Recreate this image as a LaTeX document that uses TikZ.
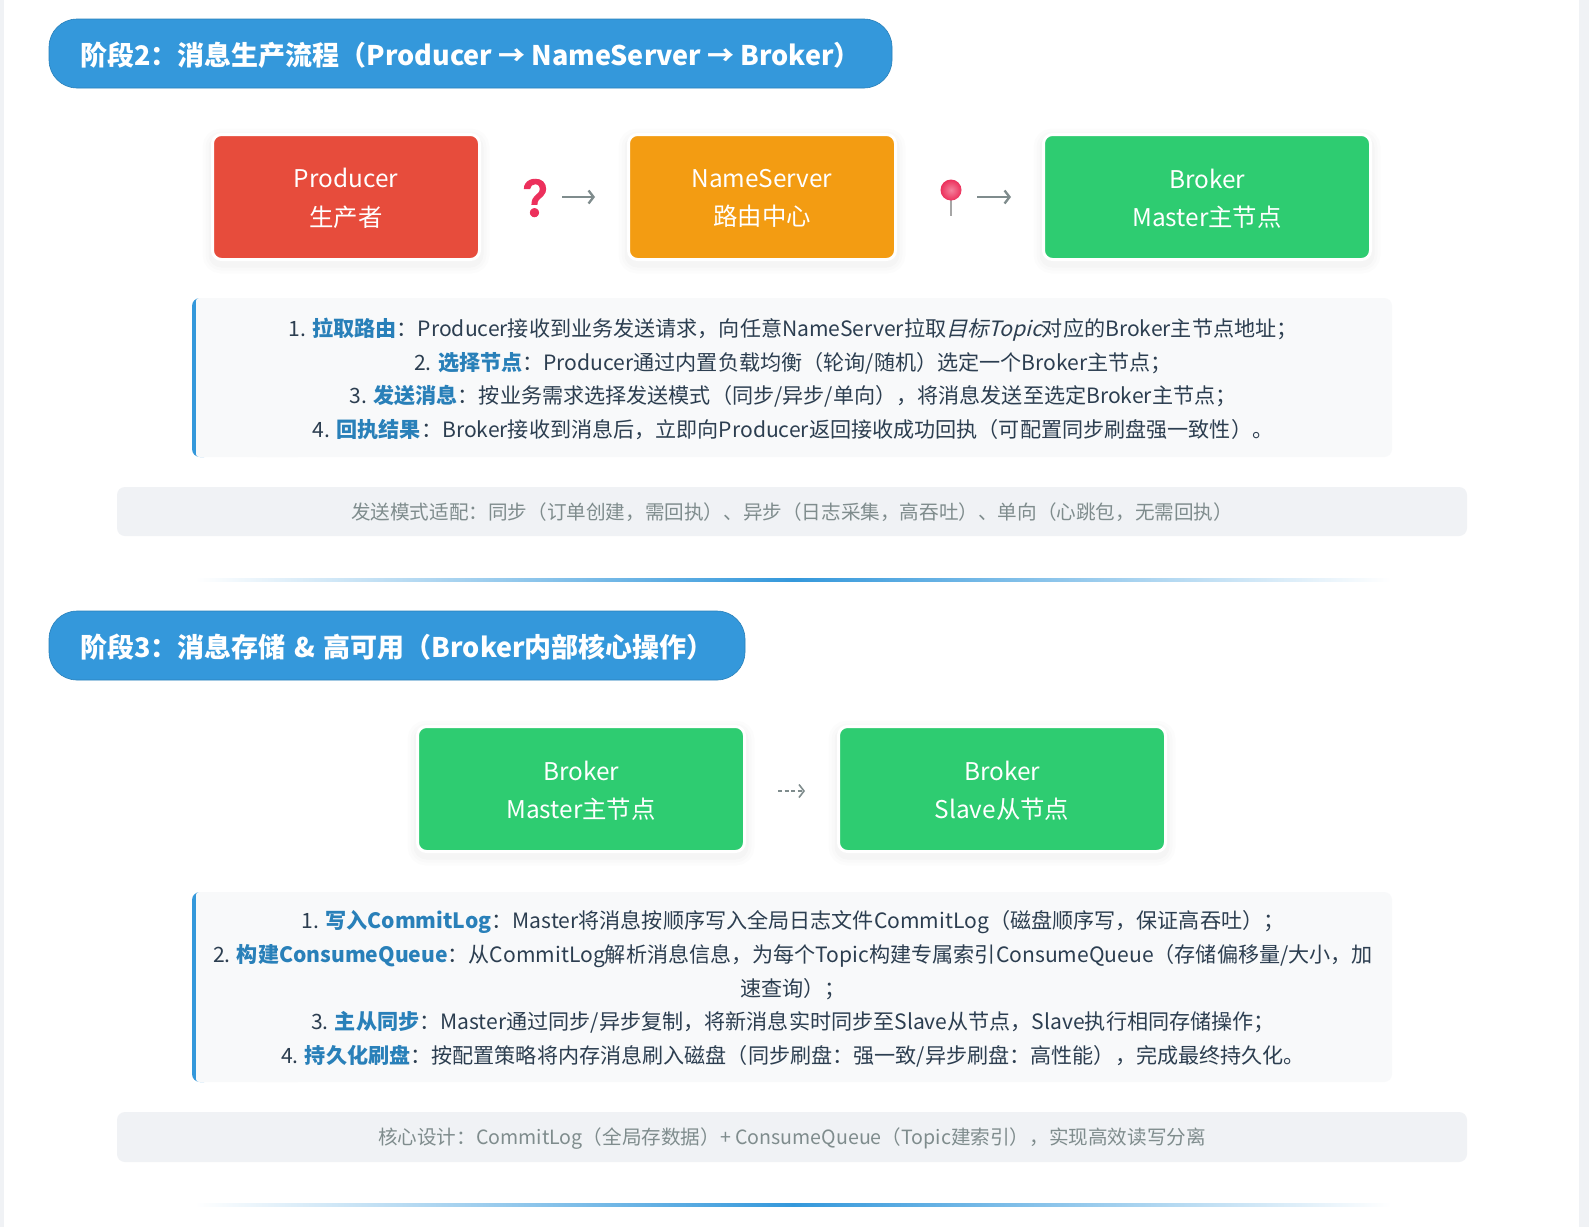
\documentclass[tikz,border=0pt]{standalone}
\usepackage{fontspec}
\setmainfont{Noto Sans CJK SC}[AutoFakeSlant=0.25]
\newfontfamily\emojifont{Noto Emoji}[FakeBold=2.5]
\usetikzlibrary{arrows.meta, positioning, calc}
\definecolor{pageedge}{RGB}{240, 242, 245}
\definecolor{titleblue}{RGB}{52, 152, 219}
\definecolor{titleedge}{RGB}{41, 128, 185}
\definecolor{prodred}{RGB}{231, 76, 60}
\definecolor{nameorange}{RGB}{243, 156, 18}
\definecolor{brokergreen}{RGB}{46, 204, 113}
\definecolor{arrowgray}{RGB}{127, 140, 141}
\definecolor{infobg}{RGB}{248, 249, 250}
\definecolor{inktext}{RGB}{44, 62, 80}
\definecolor{pinkred}{RGB}{236, 48, 92}
\newcommand{\kw}[1]{{\bfseries\color{titleedge}#1}}
\tikzset{
  titlepill/.style={draw=titleedge, line width=0.6pt, fill=titleblue, rounded corners=28pt},
  titletext/.style={anchor=west, inner sep=0pt, text=white, font=\fontsize{27}{34}\selectfont\bfseries},
  rolebox/.style={draw=white, line width=3pt, rounded corners=9pt, minimum height=125pt,
    preaction={draw=black, draw opacity=.010, line width=20pt, transform canvas={yshift=-4pt}},
    preaction={draw=black, draw opacity=.010, line width=14pt, transform canvas={yshift=-4pt}},
    preaction={draw=black, draw opacity=.014, line width=8pt, transform canvas={yshift=-4pt}}},
  roletext/.style={yshift=-1.5pt, align=center, inner sep=0pt, text=white, font=\fontsize{24.4}{38.4}\selectfont},
  flowarrow/.style={draw=arrowgray, line width=2.3pt, -{Straight Barb[length=5pt, width=13pt]}},
  stepstext/.style={align=center, text=inktext, inner sep=0pt, font=\fontsize{21.1}{33.7}\selectfont},
  notetext/.style={text=arrowgray, inner sep=0pt, font=\fontsize{19.6}{24}\selectfont},
  fadeleft/.style={left color=white, right color=titleblue, draw=none},
  faderight/.style={left color=titleblue, right color=white, draw=none}
}
\begin{document}
\begin{tikzpicture}[x=1pt, y=-1pt]
  \path[use as bounding box, fill=white] (0,0) rectangle (1589,1227);

  % Page edges
  \fill[pageedge] (0,0) rectangle (3.5,1227);
  \fill[pageedge] (1579,0) rectangle (1589,1227);

  % Stage 2 title
  \draw[titlepill] (49,19) rectangle (892,88);
  \node[titletext] (stagetwo) at (80,55) {阶段2：消息生产流程（Producer → NameServer → Broker）};

  % Stage 2 roles
  \node[rolebox, fill=prodred, minimum width=267pt, label={[roletext]center:{Producer\\生产者}}] (producer) at (346,197) {};
  \node[rolebox, fill=nameorange, minimum width=267pt, label={[roletext]center:{NameServer\\路由中心}}] (nameserver) at (762,197) {};
  \node[rolebox, fill=brokergreen, minimum width=327pt, label={[roletext]center:{Broker\\Master主节点}}] (brokera) at (1207,197) {};

  % Emoji between the roles
  \node[text=pinkred, inner sep=0pt, font=\fontsize{37}{37}\selectfont\emojifont] (askmark) at (535,198) {❓};
  \draw[draw=gray!70, line width=2pt] (951,192) -- (951,216);
  \shade[inner color=pinkred!60!white, outer color=pinkred] (951,190) circle (10.5pt);
  \coordinate (askout) at (562,197);
  \coordinate (pinout) at (977,197);
  \draw[flowarrow, shorten >=32pt] (askout) -- (nameserver);
  \draw[flowarrow, shorten >=31pt] (pinout) -- (brokera);

  % Stage 2 steps
  \fill[titleblue, rounded corners=8pt] (192,298) rectangle (212,457);
  \fill[infobg, rounded corners=3pt] (196,298) rectangle (300,457);
  \fill[infobg, rounded corners=8pt] (250,298) rectangle (1392,457);
  \node[stepstext] (stepsa) at (793,379) {1. \kw{拉取路由}：Producer接收到业务发送请求，向任意NameServer拉取\textit{目标Topic}对应的Broker主节点地址；\\
    2. \kw{选择节点}：Producer通过内置负载均衡（轮询/随机）选定一个Broker主节点；\\
    3. \kw{发送消息}：按业务需求选择发送模式（同步/异步/单向），将消息发送至选定Broker主节点；\\
    4. \kw{回执结果}：Broker接收到消息后，立即向Producer返回接收成功回执（可配置同步刷盘强一致性）。};

  % Stage 2 note
  \fill[pageedge, rounded corners=8pt] (117,487) rectangle (1467,536);
  \node[notetext] (notea) at (792,512) {发送模式适配：同步（订单创建，需回执）、异步（日志采集，高吞吐）、单向（心跳包，无需回执）};

  % Divider
  \shade[fadeleft] (195,578.5) rectangle (793,581.5);
  \shade[faderight] (793,578.5) rectangle (1391,581.5);

  % Stage 3 title
  \draw[titlepill] (49,611) rectangle (745,680);
  \node[titletext] (stagethree) at (80,647) {阶段3：消息存储\hspace{3pt} \& \hspace{2pt}高可用（Broker内部核心操作）};

  % Stage 3 roles
  \node[rolebox, fill=brokergreen, minimum width=327pt, label={[roletext]center:{Broker\\Master主节点}}] (brokerb) at (581,789) {};
  \node[rolebox, fill=brokergreen, minimum width=327pt, label={[roletext]center:{Broker\\Slave从节点}}] (brokerc) at (1002,789) {};
  \draw[flowarrow, line width=1.6pt, dash pattern=on 4pt off 2.5pt, shorten <=32pt, shorten >=32pt, transform canvas={yshift=-2pt}] (brokerb) -- (brokerc);

  % Stage 3 steps
  \fill[titleblue, rounded corners=8pt] (192,892) rectangle (212,1082);
  \fill[infobg, rounded corners=3pt] (196,892) rectangle (300,1082);
  \fill[infobg, rounded corners=8pt] (250,892) rectangle (1392,1082);
  \node[stepstext] (stepsb) at (793,989) {1. \kw{写入CommitLog}：Master将消息按顺序写入全局日志文件CommitLog（磁盘顺序写，保证高吞吐）；\\
    2. \kw{构建ConsumeQueue}：从CommitLog解析消息信息，为每个Topic构建专属索引ConsumeQueue（存储偏移量/大小，加\\
    速查询）；\\
    3. \kw{主从同步}：Master通过同步/异步复制，将新消息实时同步至Slave从节点，Slave执行相同存储操作；\\
    4. \kw{持久化刷盘}：按配置策略将内存消息刷入磁盘（同步刷盘：强一致/异步刷盘：高性能），完成最终持久化。};

  % Stage 3 note
  \fill[pageedge, rounded corners=8pt] (117,1112) rectangle (1467,1162);
  \node[notetext] (noteb) at (792,1139) {核心设计：CommitLog（全局存数据）+ ConsumeQueue（Topic建索引），实现高效读写分离};

  % Divider
  \shade[fadeleft] (195,1203.5) rectangle (793,1206.5);
  \shade[faderight] (793,1203.5) rectangle (1391,1206.5);
\end{tikzpicture}
\end{document}
